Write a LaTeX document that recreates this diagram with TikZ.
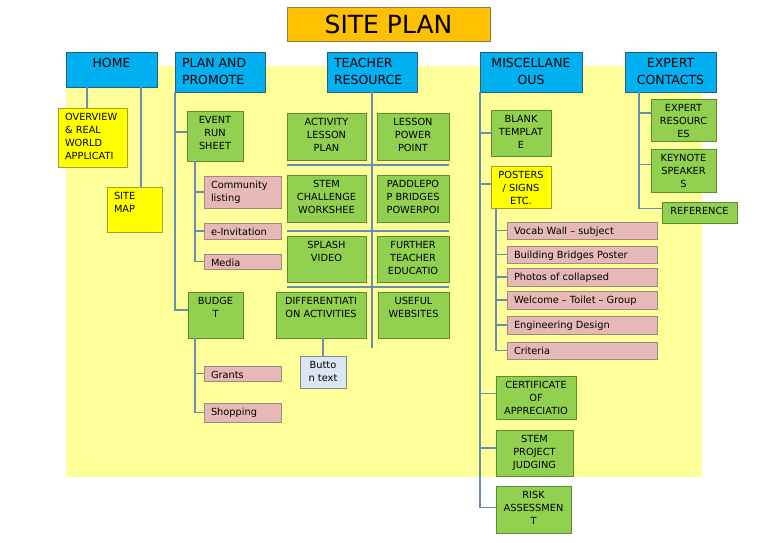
\documentclass[tikz,border=0pt]{standalone}
\usepackage{fontspec}
\setmainfont{DejaVu Sans}
\usetikzlibrary{positioning}
\definecolor{sheet}{HTML}{FFFF99}
\definecolor{amber}{HTML}{FFC000}
\definecolor{amberline}{HTML}{8C7A4A}
\definecolor{headblue}{HTML}{00B0F0}
\definecolor{headline}{HTML}{2E5C7A}
\definecolor{leaf}{HTML}{92D050}
\definecolor{leafline}{HTML}{5E8A32}
\definecolor{rose}{HTML}{E6B9B8}
\definecolor{roseline}{HTML}{A08A80}
\definecolor{lemon}{HTML}{FFFF00}
\definecolor{lemonline}{HTML}{A89C30}
\definecolor{btnfill}{HTML}{DCE6F2}
\definecolor{btnline}{HTML}{7F8790}
\definecolor{linkc}{HTML}{6A8FAE}
\newcommand{\boxalign}{\centering}

\begin{document}
\begin{tikzpicture}[
        x=1pt, y=-1pt,
        cell/.style n args={3}{anchor=north west, inner sep=0pt, outer sep=0pt, line width=0.8pt,
            execute at begin node={\begin{minipage}[t][#2pt][t]{#1pt}\boxalign\vspace*{#3pt}},
            execute at end node={\end{minipage}}},
        lefty/.code={\def\boxalign{\raggedright\leftskip=7pt\relax}},
        body/.style={font=\fontsize{9.8}{13}\selectfont},
        heading/.style={cell={203}{34}{8}, fill=amber, draw=amberline, font=\fontsize{25}{30}\selectfont},
        section/.style 2 args={cell={#1}{#2}{6}, fill=headblue, draw=headline, font=\fontsize{12.5}{17}\selectfont},
        task/.style 2 args={cell={#1}{#2}{5.5}, fill=leaf, draw=leafline, body},
        note/.style 2 args={cell={#1}{#2}{5.5}, lefty, fill=rose, draw=roseline, body},
        page/.style 2 args={cell={#1}{#2}{5.5}, fill=lemon, draw=lemonline, body},
        button/.style 2 args={cell={#1}{#2}{5.5}, fill=btnfill, draw=btnline, body},
        link/.style={draw=linkc, line width=1.2pt}
    ]
    \useasboundingbox (0,0) rectangle (768,543);
    \fill[sheet] (66,66) rectangle (702,477);

    \node (title) [heading] at (287,7) {SITE PLAN};

    \node (home) [section={91}{35}] at (66,52) {HOME};
    \node (plan) [section={90}{40}, lefty] at (175,52) {PLAN AND\\PROMOTE};
    \node (teach) [section={90}{40}, lefty] at (327,52) {TEACHER\\RESOURCE};
    \node (misc) [section={102}{40}] at (480,52) {MISCELLANE\\OUS};
    \node (expert) [section={91}{40}] at (625,52) {EXPERT\\CONTACTS};

    % home
    \node (overview) [page={69}{59}, lefty] at (58,108) {OVERVIEW\\\& REAL\\WORLD\\APPLICATI};
    \node (sitemap) [page={55}{45}, lefty] at (107,187) {SITE\\MAP};

    % plan and promote
    \node (event) [task={56}{50}] at (187,111) {EVENT\\RUN\\SHEET};
    \node (comm) [note={77}{32}] at (204,176) {Community\\listing};
    \node (einv) [note={77}{16}] at (204,223) {e-Invitation};
    \node (media) [note={77}{15}] at (204,254) {Media};
    \node (budget) [task={55}{46}] at (188,292) {BUDGE\\T};
    \node (grants) [note={77}{15}] at (204,366) {Grants};
    \node (shop) [note={77}{19}] at (204,403) {Shopping};

    % teacher resource
    \node (act) [task={79}{47}] at (287,113) {ACTIVITY\\LESSON\\PLAN};
    \node (lpp) [task={72}{47}] at (377,113) {LESSON\\POWER\\POINT};
    \node (stem) [task={79}{47}] at (287,175) {STEM\\CHALLENGE\\WORKSHEE};
    \node (paddle) [task={72}{47}] at (377,175) {PADDLEPO\\P BRIDGES\\POWERPOI};
    \node (splash) [task={79}{46}] at (287,236) {SPLASH\\VIDEO};
    \node (further) [task={72}{46}] at (377,236) {FURTHER\\TEACHER\\EDUCATIO};
    \node (diff) [task={90}{46}] at (276,292) {DIFFERENTIATI\\ON ACTIVITIES};
    \node (useful) [task={71}{46}] at (378,292) {USEFUL\\WEBSITES};
    \node (btn) [button={46}{32}] at (300,356) {Butto\\n text};
    \coordinate (teachend) at (372,348);

    % miscellaneous
    \node (blank) [task={60}{46}] at (491,110) {BLANK\\TEMPLAT\\E};
    \node (posters) [page={60}{42}] at (491,166) {POSTERS\\/ SIGNS\\ETC.};
    \node (vocab) [note={150}{17}] at (507,222) {Vocab Wall -- subject};
    \node (bridges) [note={150}{17}] at (507,246) {Building Bridges Poster};
    \node (photos) [note={150}{18}] at (507,268) {Photos of collapsed};
    \node (welcome) [note={150}{18}] at (507,291) {Welcome -- Toilet -- Group};
    \node (eng) [note={150}{18}] at (507,316) {Engineering Design};
    \node (criteria) [note={150}{17}] at (507,342) {Criteria};
    \node (cert) [task={80}{43}] at (496,376) {CERTIFICATE\\OF\\APPRECIATIO};
    \node (judging) [task={77}{46}] at (496,430) {STEM\\PROJECT\\JUDGING};
    \node (risk) [task={75}{47}] at (496,486) {RISK\\ASSESSMEN\\T};

    % expert contacts
    \node (expres) [task={65}{42}] at (651,99) {EXPERT\\RESOURC\\ES};
    \node (keynote) [task={65}{43}] at (651,149) {KEYNOTE\\SPEAKER\\S};
    \node (reference) [task={75}{21}] at (662,202) {REFERENCE};

    \draw[link] ([xshift=21pt]home.south west) -- ([xshift=21pt]home.south west |- overview.north);
    \draw[link] ([xshift=75pt]home.south west) -- ([xshift=75pt]home.south west |- sitemap.north);

    \draw[link] (plan.south west) |- ([yshift=4pt]event.west);
    \draw[link] (plan.south west) |- ([yshift=5pt]budget.west);
    \draw[link] ([xshift=8pt]event.south west) |- (comm.west);
    \draw[link] ([xshift=8pt]event.south west) |- (einv.west);
    \draw[link] ([xshift=8pt]event.south west) |- (media.west);
    \draw[link] ([xshift=7pt]budget.south west) |- (grants.west);
    \draw[link] ([xshift=7pt]budget.south west) |- (shop.west);

    \draw[link] (teach.south) -- (teachend);
    \draw[link] ([yshift=-5pt]act.south west) -- ([yshift=-5pt]lpp.south east);
    \draw[link] ([yshift=-9pt]stem.south west) -- ([yshift=-9pt]paddle.south east);
    \draw[link] ([yshift=-5pt]splash.south west) -- ([yshift=-5pt]further.south east);
    \draw[link] (diff.south -| btn.north) -- (btn.north);

    \draw[link] (misc.south west) |- (blank.west);
    \draw[link] (misc.south west) |- ([yshift=3pt]posters.west);
    \draw[link] (misc.south west) |- ([yshift=4pt]cert.west);
    \draw[link] (misc.south west) |- ([yshift=5pt]judging.west);
    \draw[link] (misc.south west) |- ([yshift=2pt]risk.west);
    \foreach \sub in {vocab, bridges, photos, welcome, eng, criteria}
        \draw[link] ([xshift=5pt]posters.south west) |- (\sub.west);

    \draw[link] ([xshift=14pt]expert.south west) |- ([yshift=7pt]expres.west);
    \draw[link] ([xshift=14pt]expert.south west) |- ([yshift=6pt]keynote.west);
    \draw[link] ([xshift=14pt]expert.south west) |- ([yshift=4pt]reference.west);

\end{tikzpicture}
\end{document}
